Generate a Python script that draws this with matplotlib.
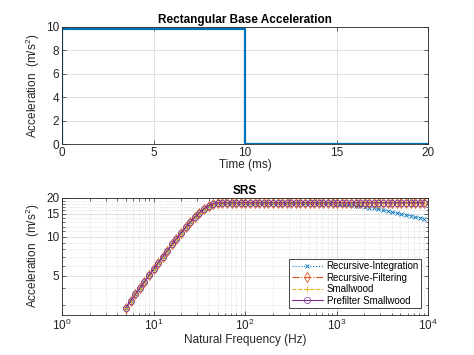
import numpy as np
import matplotlib
matplotlib.use('Agg')
import matplotlib.pyplot as plt
from matplotlib.ticker import FixedLocator, NullFormatter, LogLocator, LogFormatterMathtext

plt.rcParams['font.family'] = ['Liberation Sans', 'DejaVu Sans']
plt.rcParams['mathtext.fontset'] = 'custom'
plt.rcParams['mathtext.rm'] = 'Liberation Sans'
plt.rcParams['mathtext.it'] = 'Liberation Sans:italic'

# base input pulse
t_ms = [0, 0, 10, 10, 20]
accel = [0, 9.81, 9.81, 0, 0]

# SRS (natural frequency, Hz)
freq = [5, 5.61, 6.30, 7.07, 7.94, 8.91, 10, 11.2, 12.6, 14.1, 15.9, 17.8,
        20, 22.4, 25.2, 28.3, 31.7, 35.6, 40, 44.9, 50.4, 56.6, 63.5, 71.3,
        80, 89.8, 101, 113, 127, 143, 160, 180, 202, 227, 254, 285, 320, 359,
        403, 453, 508, 570, 640, 718, 806, 905, 1016, 1140, 1280, 1437, 1613,
        1810, 2032, 2281, 2560, 2874, 3225, 3620, 4064, 4561, 5120, 5747,
        6451, 7241, 8128, 9123]

srs_filter = [2.85, 3.20, 3.59, 4.02, 4.50, 5.04, 5.64, 6.29, 7.04, 7.82, 8.74,
              9.68, 10.73, 11.81, 12.98, 14.17, 15.31, 16.41, 17.36, 18.02,
              18.25, 18.28, 18.28, 18.28, 18.28, 18.28, 18.28, 18.28, 18.28,
              18.28, 18.28, 18.28, 18.28, 18.28, 18.28, 18.28, 18.28, 18.28,
              18.28, 18.28, 18.28, 18.28, 18.28, 18.28, 18.28, 18.28, 18.28,
              18.28, 18.28, 18.28, 18.28, 18.28, 18.28, 18.28, 18.28, 18.28,
              18.28, 18.28, 18.28, 18.28, 18.28, 18.28, 18.28, 18.28, 18.28,
              18.28]
srs_smallwood = list(srs_filter)
srs_prefilter = list(srs_filter)
srs_integ = srs_filter[:43] + [18.2, 18.15, 18.1, 18.0, 17.9, 17.75, 17.6, 17.4,
                               17.2, 17.0, 16.8, 16.55, 16.3, 16.05, 15.8, 15.5,
                               15.25, 15.0, 14.75, 14.5, 14.25, 14.0, 13.8]

blue = '#0072BD'
red = '#D95319'
yellow = '#EDB120'
purple = '#7E2F8E'
dark = '#262626'

fig = plt.figure(figsize=(4.74, 3.55), dpi=100)
ax1 = fig.add_axes([0.131, 0.594, 0.772, 0.330])
ax2 = fig.add_axes([0.131, 0.113, 0.772, 0.330])

for ax in (ax1, ax2):
    for s in ax.spines.values():
        s.set_color(dark)
        s.set_linewidth(0.6)
    ax.tick_params(direction='in', labelsize=8.5, colors=dark, length=3, width=0.5,
                   top=True, right=True, pad=2)
    ax.tick_params(which='minor', direction='in', length=1.8, width=0.4,
                   top=True, right=True)
    ax.set_axisbelow(True)

ax1.plot(t_ms, accel, color=blue, lw=1.6)
ax1.set_xlim(0, 20)
ax1.set_ylim(0, 10)
ax1.set_xticks([0, 5, 10, 15, 20])
ax1.set_yticks([0, 2, 4, 6, 8, 10])
ax1.grid(True, color='#dcdcdc', lw=0.6)
ax1.set_title('Rectangular Base Acceleration', fontsize=8.5, fontweight='bold', pad=3)
ax1.set_xlabel('Time (ms)', fontsize=8.5, labelpad=0, color=dark)
ax1.set_ylabel('Acceleration  (m/s$^2$)', fontsize=8.5, labelpad=3, color=dark)

ax2.plot(freq, srs_integ, ls=':', color=blue, marker='x', ms=3.5, mew=0.6, lw=0.8,
         label='Recursive-Integration')
ax2.plot(freq, srs_filter, ls='-.', color=red, marker='d', ms=5, mfc='none',
         mew=0.6, lw=0.8, label='Recursive-Filtering')
ax2.plot(freq, srs_smallwood, ls='--', color=yellow, marker='+', ms=4, mew=0.6,
         lw=0.8, label='Smallwood')
ax2.plot(freq, srs_prefilter, ls='-', color=purple, marker='o', ms=4.5, mfc='none',
         mew=0.5, lw=0.8, label='Prefilter Smallwood')
ax2.set_xscale('log')
ax2.set_yscale('log')
ax2.set_xlim(1, 1e4)
ax2.set_ylim(2.5, 20)
ax2.xaxis.set_major_locator(LogLocator(base=10, numticks=10))
ax2.xaxis.set_major_formatter(LogFormatterMathtext())
ax2.xaxis.set_minor_locator(LogLocator(base=10, subs=np.arange(2, 10), numticks=20))
ax2.xaxis.set_minor_formatter(NullFormatter())
ax2.yaxis.set_major_locator(FixedLocator([5, 10, 15, 20]))
ax2.yaxis.set_major_formatter(matplotlib.ticker.FixedFormatter(['5', '10', '15', '20']))
ax2.yaxis.set_minor_locator(FixedLocator([3, 4, 6, 7, 8, 9, 11, 12, 13, 14, 16, 17, 18, 19]))
ax2.yaxis.set_minor_formatter(NullFormatter())
ax2.grid(True, which='major', color='#dcdcdc', lw=0.6)
ax2.grid(True, which='minor', color='#cfcfcf', lw=0.5, ls=':')
ax2.set_title('SRS', fontsize=8.5, fontweight='bold', pad=3)
ax2.set_xlabel('Natural Frequency (Hz)', fontsize=8.5, labelpad=1, color=dark)
ax2.set_ylabel('Acceleration  (m/s$^2$)', fontsize=8.5, labelpad=3, color=dark)

leg = ax2.legend(loc='lower right', fontsize=7, frameon=True, fancybox=False,
                 edgecolor=dark, framealpha=1, labelspacing=0.15,
                 handlelength=3.2, handletextpad=0.4, borderpad=0.25,
                 borderaxespad=0.7)
leg.get_frame().set_linewidth(0.6)

fig.savefig('out.png', dpi=100)
